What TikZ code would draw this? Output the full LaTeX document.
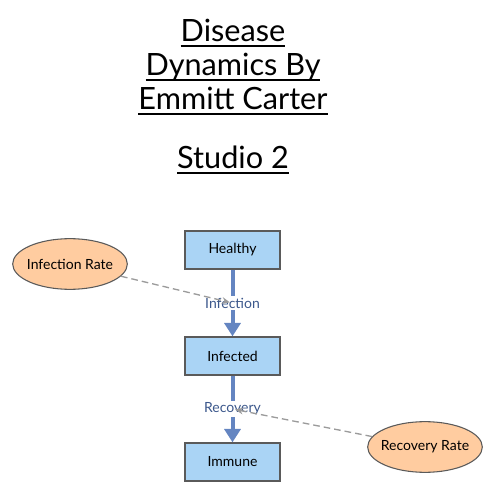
\documentclass[tikz,border=0pt]{standalone}
\usepackage{fontspec}
\setmainfont{Lato}
\usetikzlibrary{arrows.meta,shapes.geometric}

\definecolor{boxfill}{RGB}{170,212,245}
\definecolor{boxline}{RGB}{90,90,90}
\definecolor{ratefill}{RGB}{255,204,160}
\definecolor{flowblue}{RGB}{100,133,193}
\definecolor{labelblue}{RGB}{60,88,140}
\definecolor{linkgray}{RGB}{155,155,155}

% thick underline for the title lines
\newcommand{\titleul}[1]{\setbox0\hbox{#1}\rlap{\rule[-3.8pt]{\wd0}{1.3pt}}\box0}

\tikzset{
  stock/.style={draw=boxline, line width=1pt, fill=boxfill, minimum width=71.25pt, minimum height=28.5pt, font=\fontsize{10.5}{12}\selectfont},
  rate/.style={ellipse, draw=boxline, line width=0.8pt, fill=ratefill, minimum width=86pt, minimum height=38pt, inner xsep=-10pt, inner ysep=0pt, font=\fontsize{10.5}{12}\selectfont},
  flow/.style={draw=flowblue, line width=3pt, -{Triangle[length=10pt,width=12pt]}},
  flowlabel/.style={fill=white, text=labelblue, inner sep=1pt, font=\fontsize{10.5}{12}\selectfont},
  link/.style={draw=linkgray, line width=1pt, dashed, dash pattern=on 5pt off 3pt, -{Stealth[length=6pt,width=5pt]}, shorten >=2pt}
}

\begin{document}
\begin{tikzpicture}[x=0.75pt,y=0.75pt,yscale=-1,xscale=1]
\useasboundingbox (0,0) rectangle (494,492);
% Title
\node (title) at (233,67) [align=center, font=\fontsize{23}{25.5}\selectfont] {\titleul{Disease}\\ \titleul{Dynamics By}\\ \titleul{Emmitt Carter}};
\node (studio) at (233,160) [font=\fontsize{23}{25.5}\selectfont] {\titleul{Studio 2}};
% Stocks
\node[stock] (healthy) at (232.5,250) {Healthy};
\node[stock] (infected) at (232.5,356) {Infected};
\node[stock] (immune) at (232.5,462) {Immune};
% Rates
\node[rate] (infectionrate) at (70,264) {Infection Rate};
\node[rate] (recoveryrate) at (425,447) {Recovery Rate};
% Flows
\draw[flow] (healthy) -- node[flowlabel] (infection) {Infection} (infected);
\draw[flow] (infected) -- node[flowlabel] (recovery) {Recovery} (immune);
% Links
\draw[link] (infectionrate) -- (infection.center);
\draw[link] (recoveryrate) -- (recovery.center);
\end{tikzpicture}
\end{document}
